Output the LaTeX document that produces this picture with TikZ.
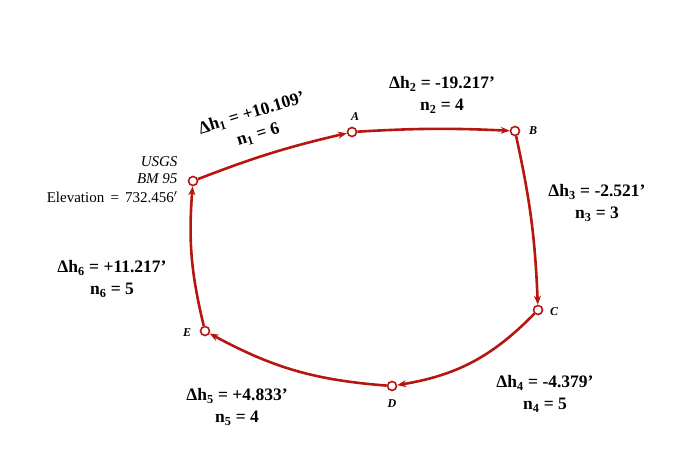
\documentclass[tikz,border=0pt]{standalone}
\usepackage{fontspec}
\setmainfont{Liberation Serif}
\usetikzlibrary{arrows.meta}
\definecolor{loopred}{RGB}{182,22,16}
\tikzset{
  station/.style={circle,draw=loopred,fill=white,line width=1.6pt,inner sep=0pt,minimum size=9pt},
  leg/.style={draw=loopred,line width=2.6pt,-{Stealth[length=9pt,width=7pt]}},
  vlabel/.style={font=\fontsize{12}{14}\selectfont\bfseries\itshape},
  obs/.style={font=\fontsize{17.5}{22}\selectfont\bfseries,align=center},
  bm/.style={font=\fontsize{15}{17}\selectfont,align=right,anchor=east}
}
\begin{document}
\begin{tikzpicture}[x=1pt,y=-1pt]
\useasboundingbox (0,0) rectangle (700,471);
\node[station] (BM) at (193,181) {};
\node[station] (A) at (352,132) {};
\node[station] (B) at (515,131) {};
\node[station] (C) at (538,310) {};
\node[station] (D) at (392,386) {};
\node[station] (E) at (205,331) {};
\draw[leg] (BM) to[bend left=4] (A);
\draw[leg] (A) to[bend left=3] (B);
\draw[leg] (B) to[bend left=5] (C);
\draw[leg] (C) to[bend left=18] (D);
\draw[leg] (D) to[bend left=12] (E);
\draw[leg] (E) to[bend left=9] (BM);
\node[vlabel] (lA) at (355,117) {A};
\node[vlabel] (lB) at (533,131) {B};
\node[vlabel] (lC) at (554,312) {C};
\node[vlabel] (lD) at (392,404) {D};
\node[vlabel] (lE) at (187,333) {E};
\node[bm] (usgs) at (181,162) {\itshape USGS};
\node[bm] (bm95) at (181,179) {\itshape BM 95};
\node[bm] (elev) at (181,197) {Elevation \,=\, 732.456$'$};
\node[obs,rotate=17] (o1) at (255,124) {Δh\textsubscript{1} = +10.109’\\n\textsubscript{1} = 6};
\node[obs] (o2) at (442,95) {Δh\textsubscript{2} = -19.217’\\n\textsubscript{2} = 4};
\node[obs] (o3) at (597,203) {Δh\textsubscript{3} = -2.521’\\n\textsubscript{3} = 3};
\node[obs] (o4) at (545,394) {Δh\textsubscript{4} = -4.379’\\n\textsubscript{4} = 5};
\node[obs] (o5) at (237,407) {Δh\textsubscript{5} = +4.833’\\n\textsubscript{5} = 4};
\node[obs] (o6) at (112,279) {Δh\textsubscript{6} = +11.217’\\n\textsubscript{6} = 5};
\end{tikzpicture}
\end{document}
